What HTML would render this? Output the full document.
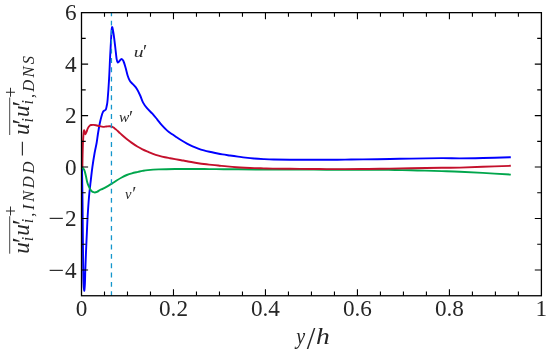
<!DOCTYPE html>
<html><head><meta charset="utf-8"><style>
html,body{margin:0;padding:0;background:#fff;}
svg{display:block;}
text{font-family:"Liberation Serif",serif;fill:#262626;}
.it{font-style:italic;}
.ann text{fill:#2a2a2a;}
</style></head><body>
<svg width="550" height="354" viewBox="0 0 550 354">
<rect width="550" height="354" fill="#fff"/>
<g fill="none" stroke-width="1.9" stroke-linejoin="round" stroke-linecap="butt">
<path d="M82.00,167.30 C82.08,172.75 82.35,187.88 82.50,200.00 C82.65,212.12 82.78,228.67 82.90,240.00 C83.02,251.33 83.10,260.83 83.20,268.00 C83.30,275.17 83.33,279.20 83.50,283.00 C83.67,286.80 83.97,290.63 84.20,290.80 C84.43,290.97 84.72,287.47 84.90,284.00 C85.08,280.53 85.12,275.33 85.30,270.00 C85.48,264.67 85.73,258.33 86.00,252.00 C86.27,245.67 86.63,237.83 86.90,232.00 C87.17,226.17 87.25,222.83 87.60,217.00 C87.95,211.17 88.50,202.83 89.00,197.00 C89.50,191.17 90.03,187.00 90.60,182.00 C91.17,177.00 91.73,171.83 92.40,167.00 C93.07,162.17 93.88,157.08 94.60,153.00 C95.32,148.92 96.13,145.75 96.70,142.50 C97.27,139.25 97.50,136.63 98.00,133.50 C98.50,130.37 99.15,126.47 99.70,123.70 C100.25,120.93 100.75,118.88 101.30,116.90 C101.85,114.92 102.48,112.85 103.00,111.80 C103.52,110.75 103.92,111.00 104.40,110.60 C104.88,110.20 105.52,110.17 105.90,109.40 C106.28,108.63 106.42,107.57 106.70,106.00 C106.98,104.43 107.20,104.58 107.60,100.00 C108.00,95.42 108.67,86.00 109.10,78.50 C109.53,71.00 109.85,61.92 110.20,55.00 C110.55,48.08 110.90,41.67 111.20,37.00 C111.50,32.33 111.60,27.50 112.00,27.00 C112.40,26.50 113.03,30.42 113.60,34.00 C114.17,37.58 114.90,44.37 115.40,48.50 C115.90,52.63 116.20,56.47 116.60,58.80 C117.00,61.13 117.32,62.13 117.80,62.50 C118.28,62.87 118.88,61.58 119.50,61.00 C120.12,60.42 120.85,59.00 121.50,59.00 C122.15,59.00 122.72,59.55 123.40,61.00 C124.08,62.45 124.88,65.23 125.60,67.70 C126.32,70.17 127.00,73.62 127.70,75.80 C128.40,77.98 128.85,79.32 129.80,80.80 C130.75,82.28 132.22,83.33 133.40,84.70 C134.58,86.07 135.77,87.20 136.90,89.00 C138.03,90.80 139.17,93.23 140.20,95.50 C141.23,97.77 141.97,100.48 143.10,102.60 C144.23,104.72 145.45,106.35 147.00,108.20 C148.55,110.05 150.72,111.85 152.40,113.70 C154.08,115.55 155.53,117.38 157.10,119.30 C158.67,121.22 160.12,123.32 161.80,125.20 C163.48,127.08 165.38,129.03 167.20,130.60 C169.02,132.17 171.15,133.50 172.70,134.60 C174.25,135.70 175.07,136.25 176.50,137.20 C177.93,138.15 179.55,139.23 181.30,140.30 C183.05,141.37 185.12,142.58 187.00,143.60 C188.88,144.62 190.73,145.57 192.60,146.40 C194.47,147.23 196.32,147.93 198.20,148.60 C200.08,149.27 202.02,149.87 203.90,150.40 C205.78,150.93 207.62,151.37 209.50,151.80 C211.38,152.23 213.03,152.57 215.20,153.00 C217.37,153.43 220.03,153.98 222.50,154.40 C224.97,154.82 227.42,155.13 230.00,155.50 C232.58,155.87 235.42,156.25 238.00,156.60 C240.58,156.95 242.83,157.28 245.50,157.60 C248.17,157.92 250.98,158.25 254.00,158.50 C257.02,158.75 260.33,158.93 263.60,159.10 C266.87,159.27 269.20,159.40 273.60,159.50 C278.00,159.60 283.93,159.65 290.00,159.70 C296.07,159.75 303.93,159.78 310.00,159.80 C316.07,159.82 320.57,159.83 326.40,159.80 C332.23,159.77 338.90,159.67 345.00,159.60 C351.10,159.53 355.50,159.50 363.00,159.40 C370.50,159.30 382.00,159.13 390.00,159.00 C398.00,158.87 402.33,158.74 411.00,158.60 C419.67,158.46 433.83,158.18 442.00,158.15 C450.17,158.12 453.17,158.43 460.00,158.40 C466.83,158.38 474.53,158.20 483.00,158.00 C491.47,157.80 506.17,157.33 510.80,157.20" stroke="#0000ff" />
<path d="M82.00,167.30 C82.17,167.47 82.58,167.75 83.00,168.30 C83.42,168.85 84.02,169.32 84.50,170.60 C84.98,171.88 85.43,174.02 85.90,176.00 C86.37,177.98 86.77,180.63 87.30,182.50 C87.83,184.37 88.42,185.78 89.10,187.20 C89.78,188.62 90.55,190.13 91.40,191.00 C92.25,191.87 93.27,192.25 94.20,192.40 C95.13,192.55 96.03,192.30 97.00,191.90 C97.97,191.50 98.98,190.55 100.00,190.00 C101.02,189.45 101.73,189.30 103.10,188.60 C104.47,187.90 106.73,186.63 108.20,185.80 C109.67,184.97 110.50,184.48 111.90,183.60 C113.30,182.72 114.97,181.52 116.60,180.50 C118.23,179.48 120.00,178.42 121.70,177.50 C123.40,176.58 125.10,175.70 126.80,175.00 C128.50,174.30 130.03,173.82 131.90,173.30 C133.77,172.78 136.23,172.30 138.00,171.90 C139.77,171.50 140.85,171.20 142.50,170.90 C144.15,170.60 145.23,170.35 147.90,170.10 C150.57,169.85 153.98,169.58 158.50,169.40 C163.02,169.22 169.00,169.07 175.00,169.00 C181.00,168.93 188.82,168.98 194.50,169.00 C200.18,169.02 204.25,169.07 209.10,169.10 C213.95,169.13 218.75,169.17 223.60,169.20 C228.45,169.23 232.13,169.25 238.20,169.30 C244.27,169.35 251.37,169.45 260.00,169.50 C268.63,169.55 278.93,169.57 290.00,169.60 C301.07,169.63 314.28,169.68 326.40,169.70 C338.52,169.72 353.77,169.68 362.70,169.70 C371.63,169.72 374.62,169.75 380.00,169.80 C385.38,169.85 389.85,169.92 395.00,170.00 C400.15,170.08 405.90,170.20 410.90,170.30 C415.90,170.40 419.85,170.47 425.00,170.60 C430.15,170.73 435.97,170.92 441.80,171.10 C447.63,171.28 453.20,171.40 460.00,171.70 C466.80,172.00 474.13,172.42 482.60,172.90 C491.07,173.38 506.10,174.32 510.80,174.60" stroke="#00a64c" />
<path d="M82.40,167.10 C82.43,165.08 82.50,159.18 82.60,155.00 C82.70,150.82 82.83,145.67 83.00,142.00 C83.17,138.33 83.42,134.97 83.60,133.00 C83.78,131.03 83.93,130.43 84.10,130.20 C84.27,129.97 84.38,130.93 84.60,131.60 C84.82,132.27 85.08,134.13 85.40,134.20 C85.72,134.27 86.10,132.97 86.50,132.00 C86.90,131.03 87.25,129.47 87.80,128.40 C88.35,127.33 89.18,126.17 89.80,125.60 C90.42,125.03 90.88,125.12 91.50,125.00 C92.12,124.88 92.75,124.87 93.50,124.90 C94.25,124.93 94.97,124.98 96.00,125.20 C97.03,125.42 98.53,125.92 99.70,126.20 C100.87,126.48 101.88,126.85 103.00,126.90 C104.12,126.95 105.27,126.62 106.40,126.50 C107.53,126.38 108.80,126.15 109.80,126.20 C110.80,126.25 111.62,126.45 112.40,126.80 C113.18,127.15 113.87,127.83 114.50,128.30 C115.13,128.77 115.45,128.95 116.20,129.60 C116.95,130.25 118.03,131.30 119.00,132.20 C119.97,133.10 120.72,133.87 122.00,135.00 C123.28,136.13 125.12,137.73 126.70,139.00 C128.28,140.27 129.73,141.35 131.50,142.60 C133.27,143.85 135.47,145.38 137.30,146.50 C139.13,147.62 140.73,148.43 142.50,149.30 C144.27,150.17 146.15,150.95 147.90,151.70 C149.65,152.45 151.23,153.15 153.00,153.80 C154.77,154.45 156.50,155.02 158.50,155.60 C160.50,156.18 163.08,156.87 165.00,157.30 C166.92,157.73 168.33,157.90 170.00,158.20 C171.67,158.50 173.12,158.77 175.00,159.10 C176.88,159.43 179.30,159.85 181.30,160.20 C183.30,160.55 185.12,160.85 187.00,161.20 C188.88,161.55 190.73,161.97 192.60,162.30 C194.47,162.63 196.32,162.92 198.20,163.20 C200.08,163.48 202.08,163.77 203.90,164.00 C205.72,164.23 206.72,164.35 209.10,164.60 C211.48,164.85 215.22,165.20 218.20,165.50 C221.18,165.80 223.97,166.12 227.00,166.40 C230.03,166.68 233.40,166.98 236.40,167.20 C239.40,167.42 241.98,167.55 245.00,167.70 C248.02,167.85 251.40,167.98 254.50,168.10 C257.60,168.22 260.57,168.32 263.60,168.40 C266.63,168.48 268.30,168.53 272.70,168.60 C277.10,168.67 283.78,168.73 290.00,168.80 C296.22,168.87 303.93,168.95 310.00,169.00 C316.07,169.05 320.57,169.08 326.40,169.10 C332.23,169.12 338.95,169.12 345.00,169.10 C351.05,169.08 356.87,169.05 362.70,169.00 C368.53,168.95 375.45,168.87 380.00,168.80 C384.55,168.73 384.85,168.68 390.00,168.60 C395.15,168.52 402.27,168.43 410.90,168.30 C419.53,168.17 433.62,167.92 441.80,167.80 C449.98,167.68 453.20,167.77 460.00,167.60 C466.80,167.43 474.13,167.10 482.60,166.80 C491.07,166.50 506.10,165.97 510.80,165.80" stroke="#c4102c" />
</g>
<line x1="111.45" y1="12.65" x2="111.45" y2="295.75" stroke="#1496cc" stroke-width="1.3" stroke-dasharray="4.9 4.43" stroke-dashoffset="1.28"/>
<rect x="81.5" y="12.65" width="459.90" height="283.10" fill="none" stroke="#000" stroke-width="1.3"/>
<path d="M104.50,295.75v-4.2M104.50,12.65v4.2M127.49,295.75v-4.2M127.49,12.65v4.2M150.49,295.75v-4.2M150.49,12.65v4.2M173.48,295.75v-6.6M173.48,12.65v6.6M196.47,295.75v-4.2M196.47,12.65v4.2M219.47,295.75v-4.2M219.47,12.65v4.2M242.47,295.75v-4.2M242.47,12.65v4.2M265.46,295.75v-6.6M265.46,12.65v6.6M288.45,295.75v-4.2M288.45,12.65v4.2M311.45,295.75v-4.2M311.45,12.65v4.2M334.45,295.75v-4.2M334.45,12.65v4.2M357.44,295.75v-6.6M357.44,12.65v6.6M380.44,295.75v-4.2M380.44,12.65v4.2M403.43,295.75v-4.2M403.43,12.65v4.2M426.42,295.75v-4.2M426.42,12.65v4.2M449.42,295.75v-6.6M449.42,12.65v6.6M472.42,295.75v-4.2M472.42,12.65v4.2M495.41,295.75v-4.2M495.41,12.65v4.2M518.40,295.75v-4.2M518.40,12.65v4.2M81.50,270.01h6.6M541.40,270.01h-6.6M81.50,244.28h4.2M541.40,244.28h-4.2M81.50,218.54h6.6M541.40,218.54h-6.6M81.50,192.80h4.2M541.40,192.80h-4.2M81.50,167.07h6.6M541.40,167.07h-6.6M81.50,141.33h4.2M541.40,141.33h-4.2M81.50,115.60h6.6M541.40,115.60h-6.6M81.50,89.86h4.2M541.40,89.86h-4.2M81.50,64.12h6.6M541.40,64.12h-6.6M81.50,38.39h4.2M541.40,38.39h-4.2" stroke="#000" stroke-width="1.1" fill="none"/>
<g font-size="23.2">
<text x="81.50" y="316.4" text-anchor="middle">0</text>
<text x="173.48" y="316.4" text-anchor="middle">0.2</text>
<text x="265.46" y="316.4" text-anchor="middle">0.4</text>
<text x="357.44" y="316.4" text-anchor="middle">0.6</text>
<text x="449.42" y="316.4" text-anchor="middle">0.8</text>
<text x="541.40" y="316.4" text-anchor="middle">1</text>
<text x="76.6" y="20.25" text-anchor="end">6</text>
<text x="76.6" y="71.72" text-anchor="end">4</text>
<text x="76.6" y="123.20" text-anchor="end">2</text>
<text x="76.6" y="174.67" text-anchor="end">0</text>
<text x="76.6" y="226.14" text-anchor="end">2</text>
<text x="48.2" y="226.14" textLength="16" lengthAdjust="spacingAndGlyphs">−</text>
<text x="76.6" y="277.61" text-anchor="end">4</text>
<text x="48.2" y="277.61" textLength="16" lengthAdjust="spacingAndGlyphs">−</text>
</g>
<text class="it" x="296.2" y="343.6" font-size="23" textLength="8.9" lengthAdjust="spacingAndGlyphs">y</text><text x="306.7" y="349" font-size="31">/</text><text class="it" x="315.9" y="343.6" font-size="23" textLength="13.8" lengthAdjust="spacingAndGlyphs">h</text>
<g class="ann">
<text class="it" x="133.8" y="56.8" font-size="14" textLength="9.8" lengthAdjust="spacingAndGlyphs">u</text><text x="143.1" y="58.0" font-size="19">′</text>
<text class="it" x="118.9" y="121.7" font-size="14" textLength="10.3" lengthAdjust="spacingAndGlyphs">w</text><text x="129.0" y="123.8" font-size="19">′</text>
<text class="it" x="125.0" y="199.2" font-size="14.5">v</text><text x="132.3" y="200.3" font-size="19">′</text>
</g>
<g transform="translate(28.5,253.7) rotate(-90)"><text class="it" x="0.00" y="0.00" font-size="23.0">u</text><text x="10.60" y="2.40" font-size="27">′</text><text class="it" x="12.40" y="4.30" font-size="16.1">i</text><text class="it" x="18.00" y="0.00" font-size="23.0">u</text><text x="28.60" y="2.40" font-size="27">′</text><text class="it" x="30.40" y="4.30" font-size="16.1">i</text><line x1="0.00" y1="-18.8" x2="37.50" y2="-18.8" stroke="#333" stroke-width="0.9"/><text x="37.20" y="-11.50" font-size="19.5">+</text><text class="it" x="37.00" y="5.00" font-size="16.5" textLength="55.0" lengthAdjust="spacing">,INDD</text><text x="96.85" y="1.90" font-size="23.0" textLength="16.4" lengthAdjust="spacingAndGlyphs">−</text><text class="it" x="118.70" y="0.00" font-size="23.0">u</text><text x="129.30" y="2.40" font-size="27">′</text><text class="it" x="131.10" y="4.30" font-size="16.1">i</text><text class="it" x="136.70" y="0.00" font-size="23.0">u</text><text x="147.30" y="2.40" font-size="27">′</text><text class="it" x="149.10" y="4.30" font-size="16.1">i</text><line x1="118.70" y1="-18.8" x2="156.20" y2="-18.8" stroke="#333" stroke-width="0.9"/><text x="155.90" y="-11.50" font-size="19.5">+</text><text class="it" x="155.70" y="5.00" font-size="16.5" textLength="42.0" lengthAdjust="spacing">,DNS</text></g>
</svg>
</body></html>
